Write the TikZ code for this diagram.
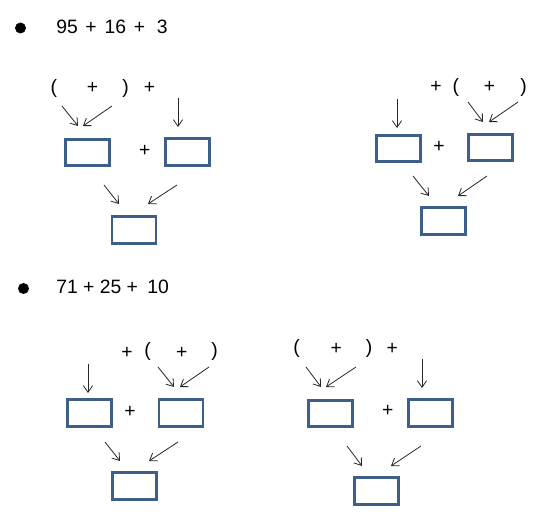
\documentclass[tikz,border=0pt]{standalone}
\usepackage{fontspec}
\setmainfont{Liberation Sans}
\usetikzlibrary{arrows.meta}

\definecolor{slotblue}{RGB}{62,95,138}

\begin{document}
\begin{tikzpicture}[
  x=0.75pt, y=-0.75pt,
  slot/.style={draw=slotblue, line width=2.2pt, minimum width=33pt, minimum height=19.75pt, inner sep=0pt},
  sym/.style={inner sep=0pt, font=\fontsize{14.5}{17}\selectfont},
  task/.style={inner sep=0pt, anchor=west, font=\fontsize{14.5}{17}\selectfont},
  dot/.style={circle, fill=black, minimum size=8.25pt, inner sep=0pt},
  pointer/.style={-{Straight Barb[length=5pt,width=7pt]}, line width=0.6pt, black!85}
]
\useasboundingbox (0,0) rectangle (554,520);

% first task
\node[dot] (dot1) at (20.5,28) {};
\node[task] (task1) at (56,27.3) {\spaceskip=5.8pt 95 + 16 + \kern3pt 3};

% (95 + 16) + 3
\node[sym] (a-lp) at (53.8,88) {(};
\node[sym] (a-p1) at (92.5,87.5) {+};
\node[sym] (a-rp) at (125.6,88) {)};
\node[sym] (a-p2) at (149.5,87.5) {+};
\node[slot] (a1) at (87.5,152.5) {};
\node[sym] (a-p3) at (144.7,151) {+};
\node[slot] (a2) at (187.5,152) {};
\node[slot] (a3) at (134,230) {};
\coordinate (a-s1) at (62,106);  \coordinate (a-e1) at (78,126);
\coordinate (a-s2) at (112,106); \coordinate (a-e2) at (83,126);
\coordinate (a-s3) at (178,98);  \coordinate (a-e3) at (178,127);
\coordinate (a-s4) at (104,185); \coordinate (a-e4) at (119,204);
\coordinate (a-s5) at (177,185); \coordinate (a-e5) at (148,204);
\draw[pointer] (a-s1) -- (a-e1);
\draw[pointer] (a-s2) -- (a-e2);
\draw[pointer] (a-s3) -- (a-e3);
\draw[pointer] (a-s4) -- (a-e4);
\draw[pointer] (a-s5) -- (a-e5);

% 95 + (16 + 3)
\node[sym] (b-p1) at (436,87) {+};
\node[sym] (b-lp) at (455.8,87.8) {(};
\node[sym] (b-p2) at (489.5,87) {+};
\node[sym] (b-rp) at (523.5,87.8) {)};
\node[slot] (b1) at (398.5,148.5) {};
\node[sym] (b-p3) at (439,146.8) {+};
\node[slot] (b2) at (490.5,147.5) {};
\node[slot] (b3) at (443.5,221) {};
\coordinate (b-s1) at (397,99);  \coordinate (b-e1) at (397,128);
\coordinate (b-s2) at (468,102); \coordinate (b-e2) at (483,122);
\coordinate (b-s3) at (518,102); \coordinate (b-e3) at (489,122);
\coordinate (b-s4) at (413,176); \coordinate (b-e4) at (429,196);
\coordinate (b-s5) at (487,176); \coordinate (b-e5) at (458,196);
\draw[pointer] (b-s1) -- (b-e1);
\draw[pointer] (b-s2) -- (b-e2);
\draw[pointer] (b-s3) -- (b-e3);
\draw[pointer] (b-s4) -- (b-e4);
\draw[pointer] (b-s5) -- (b-e5);

% second task
\node[dot] (dot2) at (23.5,288.5) {};
\node[task] (task2) at (56,287) {71 + 25 + \kern3pt 10};

% 71 + (25 + 10)
\node[sym] (c-p1) at (127,352.5) {+};
\node[sym] (c-lp) at (147.5,351.7) {(};
\node[sym] (c-p2) at (181.7,352.5) {+};
\node[sym] (c-rp) at (214.5,351.7) {)};
\node[slot] (c1) at (89.5,413) {};
\node[sym] (c-p3) at (130,411.7) {+};
\node[slot] (c2) at (181,413) {};
\node[slot] (c3) at (134.5,486) {};
\coordinate (c-s1) at (88,364);  \coordinate (c-e1) at (88,393);
\coordinate (c-s2) at (158,367); \coordinate (c-e2) at (174,387);
\coordinate (c-s3) at (209,367); \coordinate (c-e3) at (180,387);
\coordinate (c-s4) at (105,442); \coordinate (c-e4) at (120,461);
\coordinate (c-s5) at (178,442); \coordinate (c-e5) at (149,461);
\draw[pointer] (c-s1) -- (c-e1);
\draw[pointer] (c-s2) -- (c-e2);
\draw[pointer] (c-s3) -- (c-e3);
\draw[pointer] (c-s4) -- (c-e4);
\draw[pointer] (c-s5) -- (c-e5);

% (71 + 25) + 10
\node[sym] (d-lp) at (296.5,348.2) {(};
\node[sym] (d-p1) at (336.2,348.5) {+};
\node[sym] (d-rp) at (369.2,348.2) {)};
\node[sym] (d-p2) at (392.2,348.5) {+};
\node[slot] (d1) at (330.5,413.5) {};
\node[sym] (d-p3) at (387.8,411.2) {+};
\node[slot] (d2) at (430.5,413) {};
\node[slot] (d3) at (376.5,491) {};
\coordinate (d-s1) at (306,367); \coordinate (d-e1) at (321,387);
\coordinate (d-s2) at (356,367); \coordinate (d-e2) at (326,387);
\coordinate (d-s3) at (422,359); \coordinate (d-e3) at (422,388);
\coordinate (d-s4) at (347,446); \coordinate (d-e4) at (362,466);
\coordinate (d-s5) at (421,446); \coordinate (d-e5) at (391,466);
\draw[pointer] (d-s1) -- (d-e1);
\draw[pointer] (d-s2) -- (d-e2);
\draw[pointer] (d-s3) -- (d-e3);
\draw[pointer] (d-s4) -- (d-e4);
\draw[pointer] (d-s5) -- (d-e5);
\end{tikzpicture}
\end{document}
